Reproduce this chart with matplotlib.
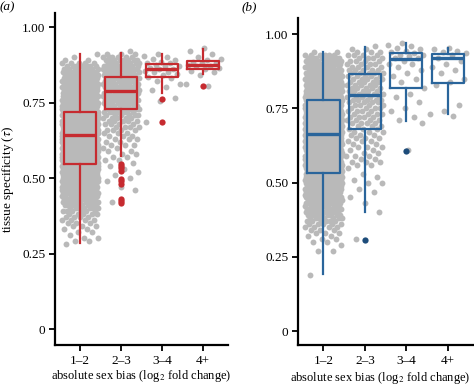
"""
plot.py

tissue specificity vs absolute sex bias, two panels (a) red, (b) blue
"""
import numpy as np
import matplotlib
matplotlib.use('Agg')
import matplotlib.pyplot as plt

plt.rcParams['font.family'] = ['Liberation Serif', 'DejaVu Serif']
plt.rcParams['mathtext.fontset'] = 'stix'

categories = ['1\u20132', '2\u20133', '3\u20134', '4+']

# box statistics: (whislo, q1, med, q3, whishi)
stats_a = [(0.285, 0.546, 0.642, 0.720, 0.910),
           (0.573, 0.728, 0.788, 0.834, 0.913),
           (0.781, 0.834, 0.861, 0.877, 0.910),
           (0.844, 0.861, 0.874, 0.887, 0.927)]
fliers_a = [[],
            [0.548, 0.540, 0.532, 0.524, 0.497, 0.489, 0.480, 0.432, 0.425, 0.418],
            [0.763, 0.684],
            [0.804]]

stats_b = [(0.192, 0.532, 0.663, 0.778, 0.940),
           (0.400, 0.680, 0.795, 0.865, 0.956),
           (0.707, 0.818, 0.916, 0.936, 0.970),
           (0.730, 0.835, 0.919, 0.933, 0.953)]
fliers_b = [[], [0.306], [0.606], []]

# dense groups: number of genes per tau level (0.01 steps)
a12_levels = [0.28, 0.29, 0.30, 0.31, 0.32, 0.33, 0.34, 0.35, 0.36, 0.37,
              0.38, 0.39, 0.40, 0.41, 0.42, 0.43, 0.44, 0.45, 0.46, 0.47,
              0.48, 0.49, 0.50, 0.51, 0.52, 0.53, 0.54, 0.55, 0.56, 0.57,
              0.58, 0.59, 0.60, 0.61, 0.62, 0.63, 0.64, 0.65, 0.66, 0.67,
              0.68, 0.69, 0.70, 0.71, 0.72, 0.73, 0.74, 0.75, 0.76, 0.77,
              0.78, 0.79, 0.80, 0.81, 0.82, 0.83, 0.84, 0.85, 0.86, 0.87,
              0.88, 0.89, 0.90, 0.91]
a12_counts = [1, 2, 2, 1, 2, 2, 3, 3, 4, 4,
              5, 6, 7, 8, 9, 10, 12, 14, 15, 17,
              18, 19, 20, 21, 22, 22, 23, 23, 24, 24,
              24, 25, 25, 25, 25, 25, 25, 25, 24, 24,
              24, 23, 23, 22, 21, 20, 19, 18, 17, 17,
              16, 15, 14, 13, 13, 12, 11, 10, 9, 7,
              5, 2, 1, 1]

a23_levels = [0.42, 0.46, 0.47, 0.49, 0.50, 0.51, 0.52, 0.53, 0.54, 0.55,
              0.56, 0.57, 0.58, 0.59, 0.60, 0.61, 0.62, 0.63, 0.64, 0.65,
              0.66, 0.67, 0.68, 0.69, 0.70, 0.71, 0.72, 0.73, 0.74, 0.75,
              0.76, 0.77, 0.78, 0.79, 0.80, 0.81, 0.82, 0.83, 0.84, 0.85,
              0.86, 0.87, 0.88, 0.89, 0.90, 0.91, 0.92]
a23_counts = [1, 1, 1, 1, 1, 1, 1, 1, 1, 1,
              2, 2, 2, 2, 2, 3, 2, 3, 3, 3,
              4, 4, 4, 5, 5, 6, 7, 8, 8, 9,
              9, 9, 10, 10, 10, 10, 10, 10, 10, 10,
              10, 9, 9, 8, 6, 3, 1]

a34_values = [0.910, 0.905, 0.900, 0.895, 0.890, 0.885, 0.880, 0.880, 0.875,
              0.870, 0.870, 0.865, 0.860, 0.860, 0.855, 0.850, 0.850, 0.845,
              0.840, 0.835, 0.830, 0.820, 0.810, 0.800, 0.790, 0.765, 0.755,
              0.685]
a4_values = [0.930, 0.920, 0.910, 0.900, 0.895, 0.890, 0.885, 0.880, 0.880,
             0.875, 0.870, 0.870, 0.865, 0.860, 0.855, 0.850, 0.840, 0.810,
             0.805]

b12_levels = [0.19, 0.27, 0.29, 0.30, 0.31, 0.32, 0.33, 0.34, 0.35, 0.36,
              0.37, 0.38, 0.39, 0.40, 0.41, 0.42, 0.43, 0.44, 0.45, 0.46,
              0.47, 0.48, 0.49, 0.50, 0.51, 0.52, 0.53, 0.54, 0.55, 0.56,
              0.57, 0.58, 0.59, 0.60, 0.61, 0.62, 0.63, 0.64, 0.65, 0.66,
              0.67, 0.68, 0.69, 0.70, 0.71, 0.72, 0.73, 0.74, 0.75, 0.76,
              0.77, 0.78, 0.79, 0.80, 0.81, 0.82, 0.83, 0.84, 0.85, 0.86,
              0.87, 0.88, 0.89, 0.90, 0.91, 0.92, 0.93, 0.94]
b12_counts = [1, 2, 1, 2, 2, 2, 3, 3, 4, 5,
              6, 7, 8, 9, 10, 11, 12, 13, 14, 15,
              16, 17, 18, 19, 20, 20, 21, 21, 22, 22,
              22, 23, 23, 23, 23, 23, 23, 23, 23, 23,
              23, 23, 23, 22, 22, 22, 21, 21, 20, 20,
              19, 19, 18, 18, 17, 16, 15, 15, 14, 13,
              13, 12, 11, 10, 9, 8, 6, 2]

b23_levels = [0.31, 0.40, 0.43, 0.45, 0.47, 0.48, 0.50, 0.51, 0.52, 0.53,
              0.55, 0.56, 0.57, 0.58, 0.59, 0.60, 0.61, 0.62, 0.63, 0.64,
              0.65, 0.66, 0.67, 0.68, 0.69, 0.70, 0.71, 0.72, 0.73, 0.74,
              0.75, 0.76, 0.77, 0.78, 0.79, 0.80, 0.81, 0.82, 0.83, 0.84,
              0.85, 0.86, 0.87, 0.88, 0.89, 0.90, 0.91, 0.92, 0.93, 0.94,
              0.95, 0.96]
b23_counts = [1, 1, 1, 1, 1, 1, 2, 1, 1, 1,
              1, 2, 3, 2, 3, 2, 2, 3, 2, 3,
              3, 3, 3, 3, 3, 4, 4, 4, 4, 4,
              4, 4, 4, 5, 5, 5, 5, 5, 5, 5,
              5, 5, 5, 5, 4, 4, 4, 4, 4, 3,
              2, 1]

b34_values = [0.970, 0.965, 0.960, 0.955, 0.950, 0.945, 0.940, 0.935, 0.930,
              0.930, 0.925, 0.920, 0.920, 0.910, 0.900, 0.900, 0.890, 0.880,
              0.870, 0.860, 0.850, 0.840, 0.820, 0.800, 0.790, 0.770, 0.750,
              0.740, 0.720, 0.710, 0.700, 0.610]
b4_values = [0.955, 0.950, 0.945, 0.940, 0.935, 0.930, 0.920, 0.910, 0.900,
             0.890, 0.880, 0.870, 0.850, 0.840, 0.830, 0.760, 0.740, 0.730,
             0.725]

RED = '#c62b30'
BLUE = '#2a659b'
BLUE_DARK = '#1d4c7a'
GREY = '#b9b9b9'


def jitter(n, seed, width=0.45):
    # deterministic spread across the category (golden ratio sequence)
    i = np.arange(n)
    return ((i * 0.6180339887 + seed) % 1.0 - 0.5) * 2 * width


def draw_panel(ax, groups, stats, fliers, color, flier_color):
    for k, ys in enumerate(groups):
        ys = np.asarray(ys)
        ax.scatter(k + 1 + jitter(len(ys), 0.13 * (k + 1)), ys, s=18,
                   color=GREY, linewidths=0, zorder=1)
    bxp = []
    for (lo, q1, med, q3, hi), fl in zip(stats, fliers):
        bxp.append(dict(whislo=lo, q1=q1, med=med, q3=q3, whishi=hi,
                        fliers=fl))
    ax.bxp(bxp, positions=range(1, 5), widths=0.78, showcaps=False,
           patch_artist=False, manage_ticks=False,
           boxprops=dict(color=color, linewidth=1.6),
           whiskerprops=dict(color=color, linewidth=1.6),
           medianprops=dict(color=color, linewidth=2.4),
           flierprops=dict(marker='o', markerfacecolor=flier_color,
                           markeredgecolor='none', markersize=4.5),
           zorder=3)
    ax.set_xlim(0.39, 4.61)
    ax.set_xticks(range(1, 5))
    ax.set_xticklabels(categories)
    ax.set_yticks([0, 0.25, 0.5, 0.75, 1.0])
    ax.set_yticklabels(['0', '0.25', '0.50', '0.75', '1.00'])
    for side in ['top', 'right']:
        ax.spines[side].set_visible(False)
    for side in ['left', 'bottom']:
        ax.spines[side].set_linewidth(1.6)
    ax.tick_params(direction='out', length=4, width=1.3, labelsize=9.5,
                   pad=3)
    ax.set_xlabel('absolute sex bias (log$_2$ fold change)', fontsize=9,
                  labelpad=1)


fig = plt.figure(figsize=(4.74, 3.86), dpi=100)
ax1 = fig.add_axes([0.116, 0.106, 0.365, 0.860])
ax2 = fig.add_axes([0.629, 0.106, 0.369, 0.847])

groups_a = [np.repeat(a12_levels, a12_counts), np.repeat(a23_levels, a23_counts),
            a34_values, a4_values]
groups_b = [np.repeat(b12_levels, b12_counts), np.repeat(b23_levels, b23_counts),
            b34_values, b4_values]

draw_panel(ax1, groups_a, stats_a, fliers_a, RED, RED)
draw_panel(ax2, groups_b, stats_b, fliers_b, BLUE, BLUE_DARK)
ax1.set_ylim(-0.053, 1.046)
ax2.set_ylim(-0.047, 1.054)

# keep the right-hand label inside the figure edge
ax2.xaxis.set_label_coords(0.47, -0.075)

ax1.set_ylabel('tissue specificity ($\\tau$)', fontsize=9.5, labelpad=4)

fig.text(0.0, 0.982, '(a)', style='italic', fontsize=9.5, va='center')
fig.text(0.51, 0.982, '(b)', style='italic', fontsize=9.5, va='center')

plt.savefig('out.png', dpi=100)
